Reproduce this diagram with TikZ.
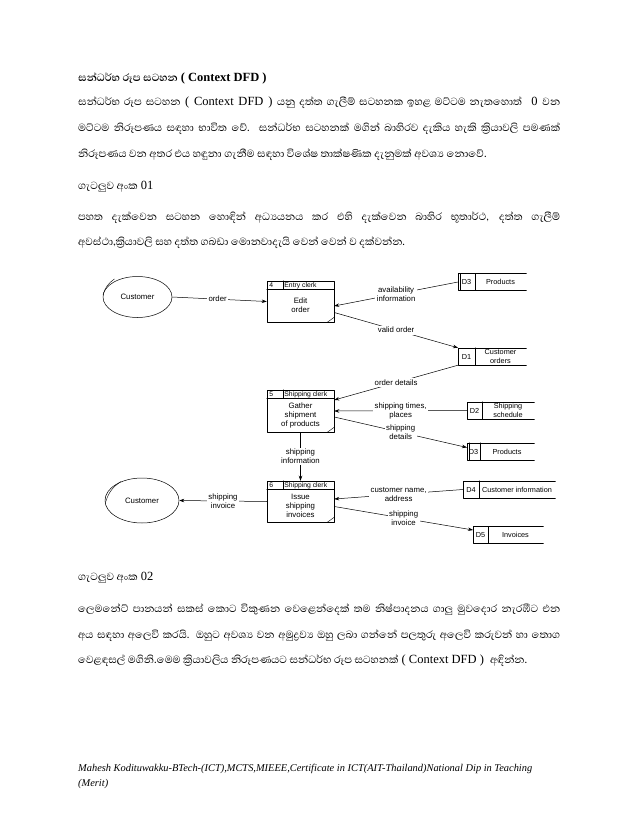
\documentclass[tikz,border=0pt]{standalone}
\usepackage{fontspec}
\setmainfont{Liberation Serif}
\newfontfamily\sinhfont[Script=Sinhala,Scale=1.06]{Abhaya Libre}
\newfontfamily\dfdfont{Liberation Sans}
\usetikzlibrary{positioning,calc,shapes.geometric,arrows.meta}

\tikzset{
  proc/.style={draw, line width=0.5pt, minimum width=67pt, minimum height=41pt, inner sep=0pt},
  extent/.style={draw, ellipse, line width=0.5pt, inner sep=0pt, font=\dfdfont\fontsize{7.8}{9}\selectfont},
  store/.style={anchor=west, minimum height=17pt, inner sep=0pt},
  ptext/.style={font=\dfdfont\fontsize{7.8}{9}\selectfont, align=center, inner sep=0pt},
  stext/.style={font=\dfdfont\fontsize{7.3}{8.6}\selectfont, align=center, inner sep=0pt},
  htext/.style={font=\dfdfont\fontsize{6.8}{8}\selectfont, anchor=base west, inner sep=0pt},
  lbl/.style={ptext, fill=white, inner sep=1.5pt},
  flow/.style={-{Stealth[length=5pt,width=3.5pt]}, line width=0.5pt},
  pline/.style={anchor=west, inner sep=0pt, font=\fontsize{12.5}{15}\selectfont}
}

\begin{document}
\begin{tikzpicture}[x=1pt,y=-1pt, line join=round, line cap=round]
\useasboundingbox (0,0) rectangle (638,826);

% text above the diagram
\node[pline, font=\bfseries\fontsize{12.5}{15}\selectfont] (title) at (78,78) {{\sinhfont සන්ධර්භ රූප සටහන} ( Context DFD )};
\node[pline] (t1a) at (78,103) {\hbox to 482pt{{\sinhfont සන්ධර්භ රූප සටහන} ( Context DFD ) {\sinhfont යනු දත්ත ගැලීම් සටහනක ඉහළ මට්ටම නැතහොත්} \ 0 {\sinhfont වන}}};
\node[pline] (t1b) at (78,129) {\hbox to 482pt{\sinhfont මට්ටම නිරූපණය සඳහා භාවිත වේ. සන්ධර්භ සටහනක් මගින් බාහිරව දැකිය හැකි ක්^^^^200dරියාවලි පමණක්}};
\node[pline] (t1c) at (78,155) {{\sinhfont නිරූපණය වන අතර එය හඳුනා ගැනීම සඳහා විශේෂ තාක්ෂණික දැනුමක් අවශ්^^^^200dය නොවේ.}};
\node[pline] (q1) at (78,187) {{\sinhfont ගැටලුව අංක} 01};
\node[pline] (t2a) at (78,218) {\hbox to 482pt{\sinhfont පහත දැක්වෙන සටහන හොඳින් අධ්^^^^200dයයනය කර එහි දැක්වෙන බාහිර භූතාර්ථ, දත්ත ගැලීම්}};
\node[pline] (t2b) at (78,243) {{\sinhfont අවස්ථා,ක්^^^^200dරියාවලි සහ දත්ත ගබඩා මොනවාදැයි වෙන් වෙන් ව දක්වන්න.}};

% processes
\node[proc] (p4) at (300.5,301.5) {};
\node[proc, minimum height=42pt] (p5) at (300.5,411) {};
\node[proc] (p6) at (300.5,501.5) {};
\foreach \p/\id/\who in {p4/4/Entry clerk, p5/5/Shipping clerk, p6/6/Shipping clerk}{
  \draw[line width=0.5pt] ([yshift=-8pt]\p.north west) -- ([yshift=-8pt]\p.north east);
  \draw[line width=0.5pt] ([xshift=16pt]\p.north west) -- ([xshift=16pt,yshift=-8pt]\p.north west);
  \node[htext] (\p-id) at ([xshift=2.5pt,yshift=-6.6pt]\p.north west) {\id};
  \node[htext] (\p-who) at ([xshift=17.5pt,yshift=-6.6pt]\p.north west) {\who};
  \draw[line width=0.4pt] ([xshift=-7pt]\p.south east) -- ([yshift=5pt]\p.south east);
}
\node[ptext] (p4-b) at ([yshift=-3.5pt]p4.center) {Edit\\order};
\node[ptext] (p5-b) at ([yshift=-4pt]p5.center) {Gather\\shipment\\of products};
\node[ptext] (p6-b) at ([yshift=-4.5pt]p6.center) {Issue\\shipping\\invoices};

% external entity
\node[extent, minimum width=69pt, minimum height=41pt] (c1) at (137.5,297) {Customer};
\node[extent, minimum width=74pt, minimum height=45pt] (c2) at (142,500.5) {Customer};
\draw[line width=0.4pt] ($(c1.center)+(-34.5,-2)$) to[bend left=20] ($(c1.center)+(-23,-18)$);
\draw[line width=0.4pt] ($(c2.center)+(-36.5,2)$) to[bend left=20] ($(c2.center)+(-21,-19)$);

% data stores
\foreach \n/\x/\y/\w/\iw/\id/\txt/\dup in {
  d3a/458/282/68/17/D3/Products/1,
  d1/458/356.5/68/17/D1/{Customer\\orders}/0,
  d2/467/410.5/67/15/D2/{Shipping\\schedule}/0,
  d3b/467/451.5/67/13/D3/Products/1,
  d4/463/489.5/92/16/D4/{Customer information}/0,
  d5/473/535/70/15/D5/Invoices/0}{
  \node[store, minimum width=\w] (\n) at (\x,\y) {};
  \draw[line width=0.5pt] (\n.north east) -- (\n.north west) -- (\n.south west) -- (\n.south east);
  \draw[line width=0.5pt] ([xshift=\iw]\n.north west) -- ([xshift=\iw]\n.south west);
  \ifnum\dup=1
    \draw[line width=0.5pt] ([xshift=2pt]\n.north west) -- ([xshift=2pt]\n.south west);
  \fi
  \node[stext] (\n-id) at ([xshift={\iw*0.5}]\n.west) {\id};
  \node[stext] (\n-t) at ([xshift={(\iw+\w)*0.5}]\n.west) {\txt};
}

% data flows
\draw[flow] (c1.east) -- node[lbl, pos=0.48] {order} (p4.west);
\draw[flow] (d3a.west) -- node[lbl] {availability\\information} ([yshift=-4.5pt]p4.east);
\draw[flow] ([yshift=-11pt]p4.east) -- node[lbl] {valid order} (d1.north west);
\draw[flow] (d1.south west) -- node[lbl] {order details} ([yshift=11pt]p5.east);
\draw[flow] (d2.west) -- node[lbl] {shipping times,\\places} (p5.east);
\draw[flow] ([yshift=-6pt]p5.east) -- node[lbl] {shipping\\details} ([yshift=4pt]d3b.west);
\draw[flow] (p5.south) -- node[lbl] {shipping\\information} (p6.north);
\draw[flow] (d4.west) -- node[lbl] {customer name,\\address} ([yshift=2.5pt]p6.east);
\draw[flow] ([yshift=-5pt]p6.east) -- node[lbl] {shipping\\invoice} ([yshift=5pt]d5.west);
\draw[flow] (p6.west) -- node[lbl] {shipping\\invoice} (c2.east);

% text below the diagram
\node[pline] (q2) at (78,578) {{\sinhfont ගැටලුව අංක} 02};
\node[pline] (t3a) at (78,610) {\hbox to 482pt{\sinhfont ලෙමනේට් පානයන් සකස් කොට විකුණන වෙළෙන්දෙක් තම නිෂ්පාදනය ගාලු මුවදොර නැරඹීට එන}};
\node[pline] (t3b) at (78,636) {\hbox to 482pt{\sinhfont අය සඳහා අලෙවි කරයි. ඔහුට අවශ්^^^^200dය වන අමුද්^^^^200dරව්^^^^200dය ඔහු ලබා ගන්නේ පලතුරු අලෙවි කරුවන් හා තොග}};
\node[pline] (t3c) at (78,661) {{\sinhfont වෙළඳසල් මගිනි.මෙම ක්^^^^200dරියාවලිය නිරූපණයට සන්ධර්භ රූප සටහනක්} ( Context DFD ) \ {\sinhfont අඳින්න.}};

% footer
\node[pline, anchor=north west, align=left, font=\itshape\fontsize{10.4}{14.5}\selectfont] (foot) at (78,764) {Mahesh Kodituwakku-BTech-(ICT),MCTS,MIEEE,Certificate in ICT(AIT-Thailand)National Dip in Teaching\\(Merit)};
\end{tikzpicture}
\end{document}
